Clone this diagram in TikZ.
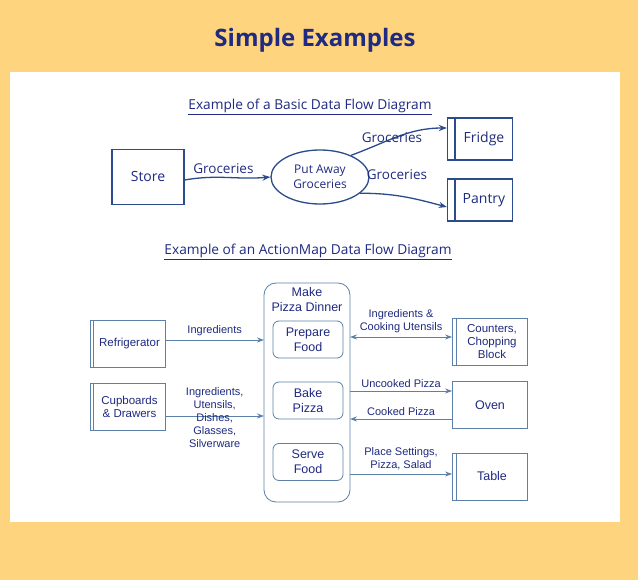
\documentclass[tikz,border=0pt]{standalone}
\usepackage{fontspec}
\setmainfont{Open Sans}
\newfontfamily\arialf{Liberation Sans}
\usetikzlibrary{shapes.geometric,arrows.meta}
\definecolor{ybg}{HTML}{FFD47E}
\definecolor{navy}{HTML}{1F2A80}
\definecolor{dline}{HTML}{2B4B8C}
\definecolor{lline}{HTML}{5C80A8}
\begin{document}
\begin{tikzpicture}[x=1pt,y=-1pt,
  tbox/.style={draw=dline,line width=1.3pt,text=navy,font=\fontsize{14}{16}\selectfont,minimum width=#1,minimum height=42,inner sep=0},
  lbox/.style={draw=lline,line width=0.8pt,text=navy,font=\arialf\fontsize{11.5}{13}\selectfont,align=center,minimum width=75,minimum height=47,inner sep=0},
  proc/.style={draw=lline,line width=0.8pt,rounded corners=6pt,text=navy,font=\arialf\fontsize{12.5}{15}\selectfont,align=center,minimum width=70,minimum height=37,inner sep=0},
  tarr/.style={draw=dline,line width=1.3pt,-{Stealth[length=8pt,width=6pt]}},
  larr/.style={draw=lline,line width=0.9pt,-{Stealth[length=7pt,width=5pt]}},
  tlab/.style={text=navy,font=\fontsize{13.5}{15}\selectfont},
  llab/.style={text=navy,font=\arialf\fontsize{11}{13}\selectfont,align=center}]
\useasboundingbox (0,0) rectangle (638,580);
\fill[ybg] (0,0) rectangle (638,580);
\fill[white] (10,72) rectangle (620,522);
\node[text=navy,font=\bfseries\fontsize{24}{30}\selectfont] (title) at (315,40) {Simple Examples};
\node[text=navy,font=\fontsize{13.7}{15}\selectfont] (h1) at (310,107) {\underline{Example of a Basic Data Flow Diagram}};
\node[text=navy,font=\fontsize{13.7}{15}\selectfont] (h2) at (308,252) {\underline{Example of an ActionMap Data Flow Diagram}};
% top
\node[tbox=72,minimum height=55] (store) at (148,177) {Store};
\node[draw=dline,line width=1.3pt,ellipse,minimum width=98,minimum height=54,inner sep=0,text=navy,font=\fontsize{12}{15}\selectfont,align=center] (put) at (320,177) {Put Away\\Groceries};
\node[tbox=65] (fridge) at (480,139) {\hspace{8pt}Fridge};
\node[tbox=65] (pantry) at (480,200) {\hspace{8pt}Pantry};
\draw[dline,line width=1.3pt] ([xshift=8pt]fridge.north west) -- ([xshift=8pt]fridge.south west);
\draw[dline,line width=1.3pt] ([xshift=8pt]pantry.north west) -- ([xshift=8pt]pantry.south west);
\draw[tarr] ([yshift=-3pt]store.east) to[out=10,in=185] node[tlab,above,pos=0.45] {Groceries} (put.west);
\draw[tarr] (put.35) to[out=20,in=180] coordinate[pos=0.45] (g1) ([yshift=11pt]fridge.west);
\node[tlab] (lg1) at (392,138) {Groceries};
\draw[tarr] (put.-22) to[out=0,in=165] ([yshift=-7pt]pantry.west);
\node[tlab] (lg2) at (397,175) {Groceries};
% bottom
\node[draw=lline,line width=0.8pt,rounded corners=12pt,minimum width=86,minimum height=219,inner sep=0] (make) at (307,392.5) {};
\node[text=navy,font=\arialf\fontsize{12.5}{15}\selectfont,align=center] (mk) at (307,300) {Make\\Pizza Dinner};
\node[proc] (prep) at (308,339.5) {Prepare\\Food};
\node[proc] (bake) at (308,400.5) {Bake\\Pizza};
\node[proc] (serve) at (308,462) {Serve\\Food};
\node[lbox] (ref) at (127.5,343.5) {\hspace{4pt}Refrigerator};
\node[lbox] (cup) at (127.5,406.5) {\hspace{4pt}Cupboards\\\hspace{4pt}\& Drawers};
\node[lbox] (cnt) at (490,342) {\hspace{4pt}Counters,\\\hspace{4pt}Chopping\\\hspace{4pt}Block};
\node[lbox,font=\arialf\fontsize{12.5}{14}\selectfont] (oven) at (490,405) {Oven};
\node[lbox,font=\arialf\fontsize{12.5}{14}\selectfont] (table) at (490,476.5) {\hspace{4pt}Table};
\foreach \n in {ref,cup,cnt,table}
  \draw[lline,line width=0.8pt] ([xshift=4pt]\n.north west) -- ([xshift=4pt]\n.south west);
\coordinate (a1) at (264,340);
\coordinate (a2) at (264,416);
\draw[larr] (ref.east |- a1) -- node[llab,above] {Ingredients} (a1);
\draw[larr] (cup.east |- a2) -- node[llab,pos=0.5,yshift=-2pt] {Ingredients,\\Utensils,\\Dishes,\\Glasses,\\Silverware} (a2);
\draw[larr,{Stealth[length=7pt,width=5pt]}-{Stealth[length=7pt,width=5pt]}] (350,337) -- node[llab,above] {Ingredients \&\\Cooking Utensils} (cnt.west |- 0,337);
\draw[larr] (350,391) -- node[llab,above] {Uncooked Pizza} (oven.west |- 0,391);
\draw[larr] (oven.west |- 0,419) -- node[llab,above] {Cooked Pizza} (350,419);
\draw[larr] (350,474) -- node[llab,above] {Place Settings,\\Pizza, Salad} (table.west |- 0,474);
\end{tikzpicture}
\end{document}
